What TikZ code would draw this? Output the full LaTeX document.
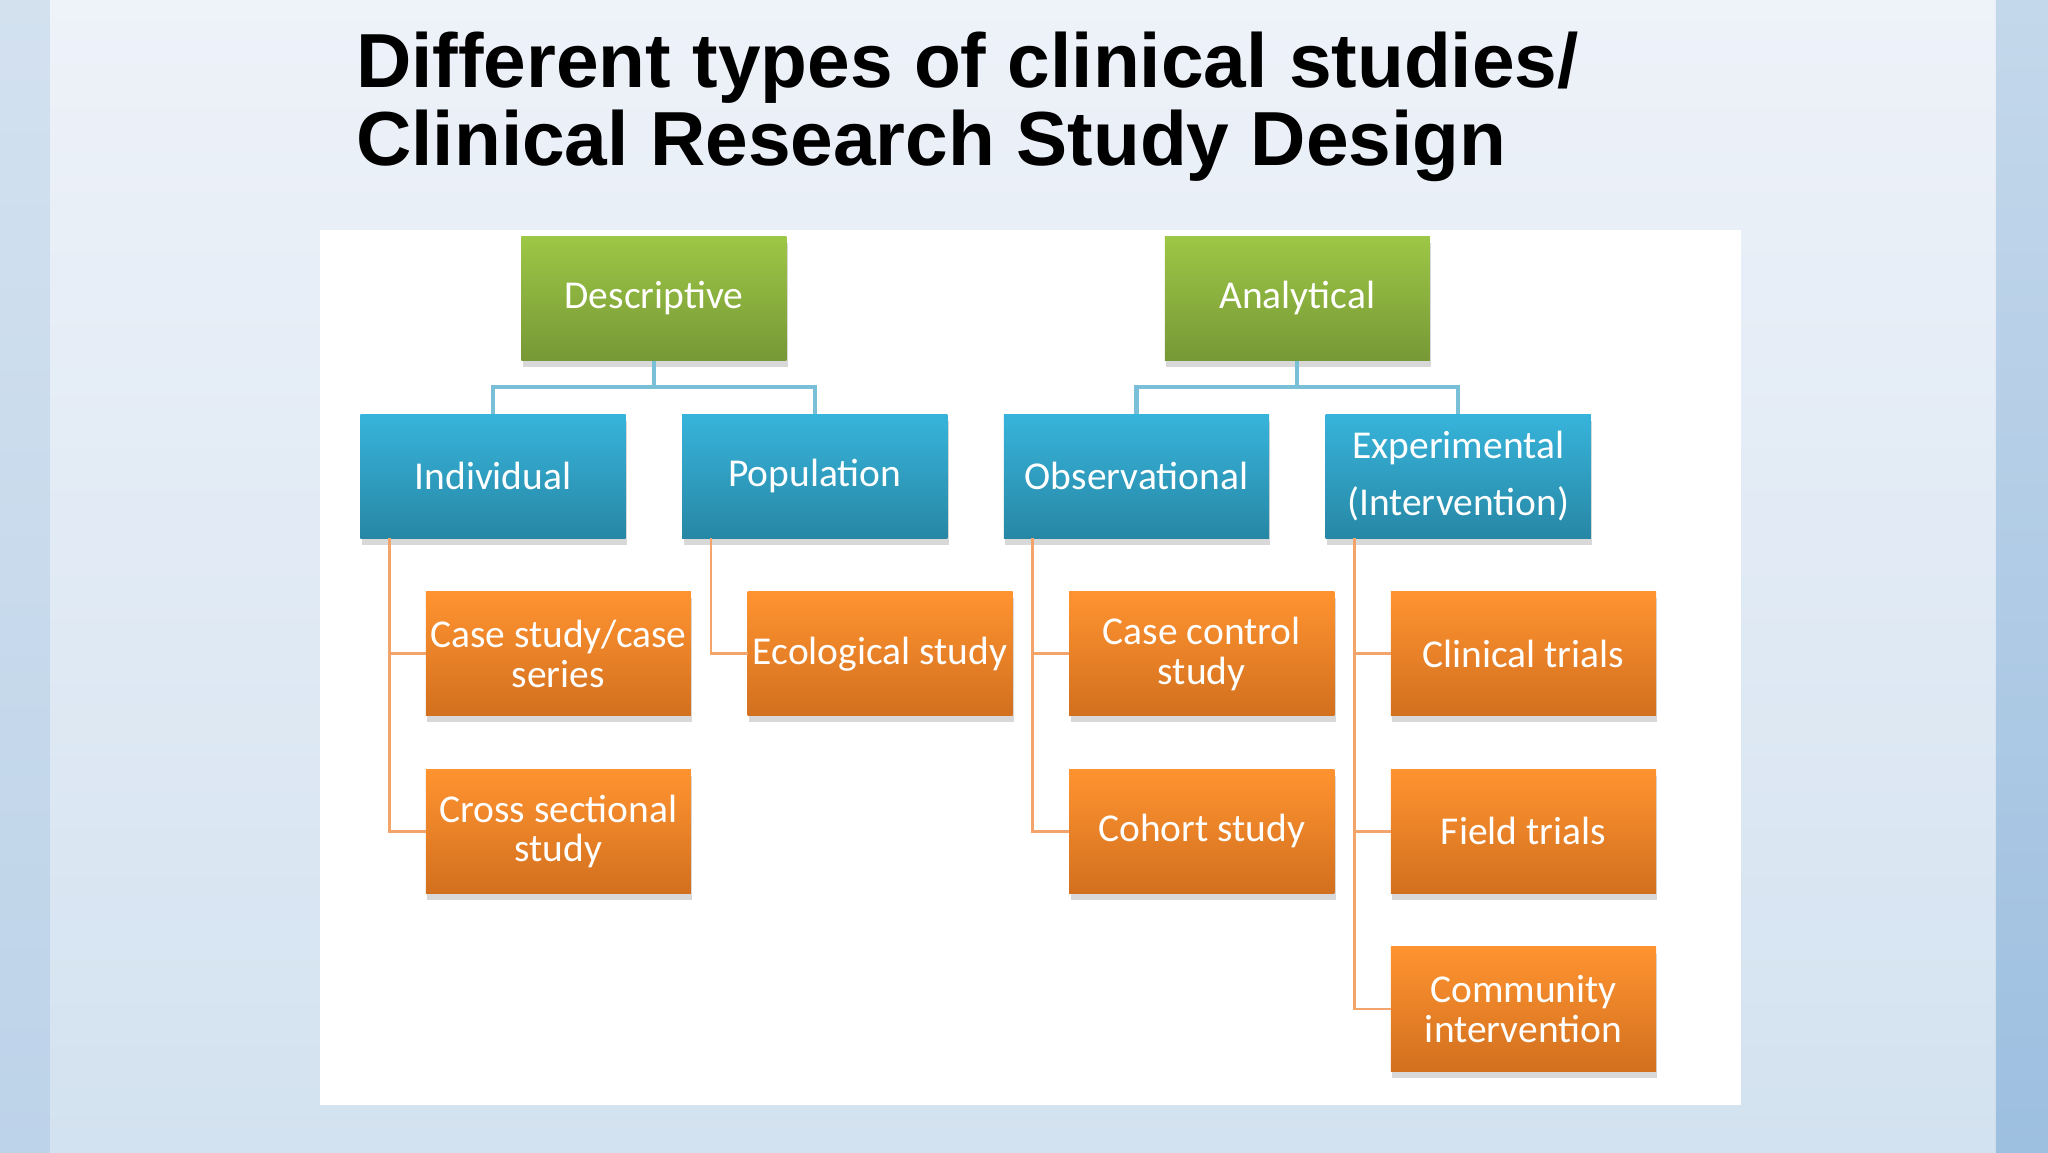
\documentclass[tikz,border=0pt]{standalone}
\usepackage{fontspec}
\setmainfont{Liberation Sans}
\newfontfamily\boxfont{Carlito}
\usepackage{tikz}
\usetikzlibrary{positioning,shadows,calc}

\definecolor{greenTop}{HTML}{9DC746}
\definecolor{greenBot}{HTML}{779836}
\definecolor{blueTop}{HTML}{37B4DB}
\definecolor{blueBot}{HTML}{2787A5}
\definecolor{orangeTop}{HTML}{FF9330}
\definecolor{orangeBot}{HTML}{D2701F}
\definecolor{blueLine}{HTML}{78BFD7}
\definecolor{orangeLine}{HTML}{F3A46A}
\definecolor{bgTop}{HTML}{EEF2F9}
\definecolor{bgBot}{HTML}{D3E2F0}
\definecolor{edgeTop}{HTML}{D3E1EF}
\definecolor{edgeBot}{HTML}{BDD3E9}
\definecolor{rimTop}{HTML}{C4D8EB}
\definecolor{rimBot}{HTML}{9DBFE0}

\begin{document}
\begin{tikzpicture}[
  box/.style={rectangle, minimum width=2.03cm, minimum height=0.95cm,
              inner sep=0pt, outer sep=0pt, align=center, text=white,
              font=\boxfont\fontsize{8.6}{8.6}\selectfont,
              drop shadow={shadow xshift=0.01cm, shadow yshift=-0.05cm,
                           opacity=0.25, fill=black!60}},
  topbox/.style={box, top color=greenTop, bottom color=greenBot},
  midbox/.style={box, top color=blueTop, bottom color=blueBot},
  leaf/.style={box, top color=orangeTop, bottom color=orangeBot},
  bline/.style={blueLine, line width=0.9pt},
  oline/.style={orangeLine, line width=0.6pt},
  title/.style={font=\bfseries\fontsize{16.7}{17}\selectfont,
                anchor=base west, inner sep=0pt},
  node distance=0.41cm and 0.433cm,
]
  \useasboundingbox (0,0) rectangle (15.68,-8.82);
  % backdrop
  \shade[top color=bgTop, bottom color=bgBot] (0,0) rectangle (15.68,-8.82);
  \shade[top color=edgeTop, bottom color=edgeBot] (0,0) rectangle (0.38,-8.82);
  \shade[top color=rimTop, bottom color=rimBot] (15.28,0) rectangle (15.68,-8.82);
  \fill[white] (2.45,-1.76) rectangle (13.33,-8.46);

  \node[title] (title1) at (2.72,-0.67) {Different types of clinical studies/};
  \node[title] (title2) at (2.72,-1.27) {Clinical Research Study Design};

  % second level
  \node[midbox] (indiv) at (3.775,-3.645) {Individual};
  \node[midbox, right=of indiv] (popul) {Population};
  \node[midbox, right=of popul] (observ) {Observational};
  \node[midbox, right=of observ] (experim) {Experimental\\[0.13cm](Intervention)};

  % top level
  \node[topbox, above=of $(indiv.north)!0.5!(popul.north)$] (desc) {Descriptive};
  \node[topbox, above=of $(observ.north)!0.5!(experim.north)$] (analyt) {Analytical};

  % leaves
  \node[leaf, anchor=north west] (casestudy) at ([shift={(0.5,-0.41)}]indiv.south west) {Case study/case\\series};
  \node[leaf, below=of casestudy] (crosssec) {Cross sectional\\study};
  \node[leaf, anchor=north west] (ecolog) at ([shift={(0.5,-0.41)}]popul.south west) {Ecological study};
  \node[leaf, anchor=north west] (casectrl) at ([shift={(0.5,-0.41)}]observ.south west) {Case control\\study};
  \node[leaf, below=of casectrl] (cohort) {Cohort study};
  \node[leaf, anchor=north west] (clintrial) at ([shift={(0.5,-0.41)}]experim.south west) {Clinical trials};
  \node[leaf, below=of clintrial] (fieldtrial) {Field trials};
  \node[leaf, below=of fieldtrial] (community) {Community\\intervention};

  \draw[bline] (desc.south) -- ++(0,-0.205) -| (indiv.north);
  \draw[bline] (desc.south) -- ++(0,-0.205) -| (popul.north);
  \draw[bline] (analyt.south) -- ++(0,-0.205) -| (observ.north);
  \draw[bline] (analyt.south) -- ++(0,-0.205) -| (experim.north);

  \draw[oline] ([xshift=0.22cm]indiv.south west) |- (casestudy.west);
  \draw[oline] ([xshift=0.22cm]indiv.south west) |- (crosssec.west);
  \draw[oline] ([xshift=0.22cm]popul.south west) |- (ecolog.west);
  \draw[oline] ([xshift=0.22cm]observ.south west) |- (casectrl.west);
  \draw[oline] ([xshift=0.22cm]observ.south west) |- (cohort.west);
  \draw[oline] ([xshift=0.22cm]experim.south west) |- (clintrial.west);
  \draw[oline] ([xshift=0.22cm]experim.south west) |- (fieldtrial.west);
  \draw[oline] ([xshift=0.22cm]experim.south west) |- (community.west);
\end{tikzpicture}
\end{document}
